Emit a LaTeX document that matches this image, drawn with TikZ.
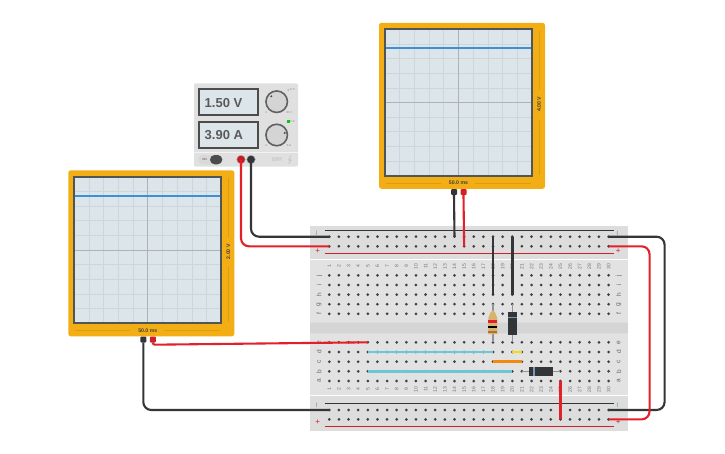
\documentclass[tikz,border=0pt]{standalone}
\usepackage{fontspec}
\setmainfont{Liberation Sans}
\usetikzlibrary{positioning,calc}

\definecolor{scopeframe}{HTML}{F2AE14}
\definecolor{scoperule}{HTML}{DB9D12}
\definecolor{scopescreen}{HTML}{DCE6EA}
\definecolor{scopegrid}{HTML}{CDD6D8}
\definecolor{scopeaxis}{HTML}{ABB3B5}
\definecolor{scopeedge}{HTML}{505655}
\definecolor{tracecol}{HTML}{3D8FD6}
\definecolor{boardcol}{HTML}{DDDDDD}
\definecolor{boardlight}{HTML}{E2E2E2}
\definecolor{groovecol}{HTML}{D5D5D5}
\definecolor{wirered}{HTML}{E3202A}
\definecolor{wireblack}{HTML}{333638}
\definecolor{railred}{HTML}{CF2027}
\definecolor{wirecyan}{HTML}{6CC6D6}
\definecolor{wireorange}{HTML}{F28A12}
\definecolor{wireyellow}{HTML}{F5D90F}
\definecolor{leadcol}{HTML}{8F9496}
\definecolor{psubody}{HTML}{E0E0E0}
\definecolor{resbody}{HTML}{D8B36E}

\tikzset{
  hole/.style={circle,fill=black!75,inner sep=0pt,minimum size=3pt},
  redwire/.style={draw=wirered,line width=2.1pt,rounded corners=8pt},
  blackwire/.style={draw=wireblack,line width=2.1pt,rounded corners=8pt},
  jumper/.style={line width=2.7pt},
  leadwire/.style={draw=leadcol,line width=1.4pt},
  collabel/.style={font=\fontsize{5}{5}\selectfont,text=black!55,rotate=90,inner sep=0pt},
  rowlabel/.style={font=\fontsize{6.5}{6.5}\selectfont,text=black!60,rotate=90,inner sep=0pt},
  railmark/.style={font=\fontsize{8}{8}\selectfont,inner sep=0pt},
  scopetext/.style={font=\bfseries\fontsize{5.2}{5}\selectfont,text=black!75,inner sep=0pt},
  readout/.style={font=\fontsize{13}{13}\selectfont\bfseries,text=black!65,inner sep=0pt},
  knobtext/.style={font=\fontsize{2.8}{3}\selectfont,text=black!50,inner sep=0pt},
  plug/.style={inner sep=0pt,minimum width=6pt,minimum height=6pt,rounded corners=1pt},
  knob/.style={circle,draw=black!62,line width=1.6pt,fill=black!17,minimum size=21.5pt,inner sep=0pt},
  display/.style={draw=black!70,line width=2pt,fill=scopescreen,minimum width=59pt,inner sep=0pt},
}

% one oscilloscope: #1 name, #2 left, #3 top, #4 trace y, #5 y label
\newcommand{\scopebox}[5]{
  \begin{scope}[shift={(#2,#3)}]
    \fill[scopeframe,rounded corners=2.5pt] (0,0) rectangle (166,166);
    \fill[scopescreen] (6,6.5) rectangle (153,153);
    \foreach \k in {1,...,9}{
      \draw[scopegrid,line width=0.8pt] ({6+14.7*\k},6.5) -- ({6+14.7*\k},153);
      \draw[scopegrid,line width=0.8pt] (6,{6.5+14.65*\k}) -- (153,{6.5+14.65*\k});
    }
    \draw[scopeaxis,line width=0.9pt] (79.5,6.5) -- (79.5,153) (6,79.8) -- (153,79.8);
    \draw[scopeedge,line width=2pt] (6,6.5) rectangle (153,153);
    \draw[tracecol,line width=2pt] (7,#4) -- (152,#4);
    \draw[scoperule,line width=0.5pt] (7,160) -- (62,160) (96,160) -- (152,160);
    \draw[scoperule,line width=0.5pt] (160,8) -- (160,67) (160,97) -- (160,152);
    \node[scopetext] (#1time) at (79.5,160) {50.0 ms};
    \node[scopetext,rotate=90] (#1volt) at (160,81.5) {#5};
    \node[plug,fill=wireblack,anchor=north] (#1neg) at (75,166) {};
    \node[plug,fill=railred,anchor=north] (#1pos) at (84.5,166) {};
  \end{scope}
}

\begin{document}
\begin{tikzpicture}[x=1pt,y=-1pt]
\useasboundingbox (0,0) rectangle (725,453);
\fill[white] (0,0) rectangle (725,453);

% breadboard
\fill[boardcol] (310,226) rectangle (628,431);
\fill[boardlight] (310,260) rectangle (628,322);
\fill[boardlight] (310,334) rectangle (628,395);
\fill[groovecol] (310,323) rectangle (628,333);
\draw[white,line width=0.5pt] (310,259.5) -- (628,259.5) (310,395) -- (628,395);
\draw[wireblack,line width=0.9pt] (324.7,230.3) -- (614,230.3) (324.7,403.3) -- (614,403.3);
\draw[railred,line width=0.9pt] (324.7,253.3) -- (614,253.3) (324.7,426.3) -- (614,426.3);
\foreach \sd/\xx in {l/317.6,r/618.3}{
  \node[railmark,text=black!50,rotate=90] (minus\sd a) at (\xx,233) {--};
  \node[railmark,text=black!50,rotate=90] (minus\sd b) at (\xx,405.5) {--};
  \node[railmark,text=railred] (plus\sd a) at (\xx,250.7) {+};
  \node[railmark,text=railred] (plus\sd b) at (\xx,422.6) {+};
}

% holes
\foreach \r/\yy in {tn/236.7,tp/246.3,j/275.3,i/285,h/294.6,g/304.2,f/313.8,e/342.3,d/352,c/361.7,b/371.3,a/381,bn/410,bp/419.4}{
  \foreach \c in {1,...,30}{
    \node[hole] (\r-\c) at ({329.3+9.63*(\c-1)},\yy) {};
  }
}
\foreach \c in {1,...,30}{
  \node[collabel] (top\c) at ({329.3+9.63*(\c-1)},266.3) {\c};
  \node[collabel] (bot\c) at ({329.3+9.63*(\c-1)},389.3) {\c};
}
\foreach \r in {j,i,h,g,f,e,d,c,b,a}{
  \path (\r-1) ++(-10.2,0) node[rowlabel] (left\r) {\r};
  \path (\r-30) ++(10.2,0) node[rowlabel] (right\r) {\r};
}

% oscilloscopes
\scopebox{scl}{68.3}{170.3}{25.7}{2.00 V}
\scopebox{sct}{379}{22.8}{25.5}{4.00 V}

% power supply
\fill[psubody,rounded corners=2pt] (194,83.3) rectangle (298,166.7);
\draw[black!5,line width=0.5pt] (194,152.7) -- (298,152.7);
\node[display,minimum height=26pt] (dispv) at (228.7,102.2) {};
\node[display,minimum height=26.5pt] (dispa) at (228.7,134.8) {};
\node[readout,anchor=west] (voltval) at (204.5,102.6) {1.50 V};
\node[readout,anchor=west] (ampval) at (204.5,135.2) {3.90 A};
\node[knob] (knobv) at (276.7,101.7) {};
\node[knob] (knoba) at (276.7,135) {};
\fill[black!70] (271.3,96.3) circle (1.1pt) (284.7,133) circle (1.1pt);
\node[knobtext] (knobvmin) at (266.5,112.5) {0};
\node[knobtext] (knobvmax) at (289,112.5) {32 V};
\node[knobtext] (knobamin) at (266.5,145.8) {0};
\node[knobtext] (knobamax) at (289,145.8) {5 A};
\node[knobtext] (ledvtext) at (292.5,90) {C.V};
\node[knobtext] (ledatext) at (292.5,121.3) {C.C};
\fill[black!25] (288.3,90) circle (1.3pt);
\fill[green!80!black] (287.2,119.8) rectangle (290,122.6);
\fill[black!15,rounded corners=4.6pt] (198.3,155) rectangle (222.3,164.3);
\fill[black!70,rounded corners=4.6pt] (210,155) rectangle (222.3,164.3);
\node[font=\fontsize{3}{3}\selectfont,text=black!70,inner sep=0pt] (swtext) at (204.5,159.8) {ON};
\node[font=\fontsize{2.6}{3}\selectfont,text=black!30,align=center,inner sep=0pt] (psuname) at (277,159.5) {POWER\\[-0.3pt]SUPPLY};
\draw[black!25,line width=0.6pt] (291,155.5) -- (288.7,160) -- (291,160) -- (288.7,164);
\node[circle,fill=wirered!85!black,draw=black!30,line width=0.4pt,minimum size=8.5pt,inner sep=0pt] (psupos) at (241,159.5) {};
\node[circle,fill=wireblack,draw=black!30,line width=0.4pt,minimum size=8.5pt,inner sep=0pt] (psuneg) at (251,159.5) {};

% wires from the supply and the scopes
\draw[redwire] (psupos.center) |- (tp-1.center);
\draw[blackwire] (psuneg.center) |- (tn-1.center);
\draw[blackwire] (sctneg.south) -- (tn-14.center);
\draw[redwire] (sctpos.south) -- (tp-15.center);
\draw[blackwire] (sclneg.south) |- (bn-1.center);
\draw[redwire,rounded corners=2pt] (sclpos.south) -- ++(0,2) -- (e-5.center);
\draw[blackwire] (tn-30.center) -- ++(56,0) |- (bn-30.center);
\draw[redwire] (tp-30.center) -- ++(41,0) |- (bp-30.center);

% jumpers on the board
\draw[jumper,wireblack] (tn-18.center) -- (h-18.center);
\draw[jumper,wireblack] (tn-20.center) -- (h-20.center);
\draw[jumper,wirecyan] (d-5.center) -- (d-18.center);
\draw[jumper,wirecyan] (b-5.center) -- (b-20.center);
\draw[jumper,wireorange] (c-18.center) -- (c-21.center);
\draw[jumper,wireyellow] (d-20.center) -- (d-21.center);
\draw[jumper,wirered] (a-25.center) -- (bp-25.center);

% resistor
\draw[leadwire] (g-18.center) -- (e-18.center);
\fill[resbody] (490.5,312.5) -- (492.8,310) -- (495,312.5) -- (497.3,318) -- (497.3,334) -- (488.3,334) -- (488.3,318) -- cycle;
\fill[wirered] (488.3,320.4) rectangle (497.3,323);
\fill[black] (488.3,325.5) rectangle (497.3,328);
\fill[black!10!brown] (488.3,330.8) rectangle (497.3,333.2);

% diodes
\draw[leadwire] (g-20.center) -- (e-20.center);
\fill[wireblack] (507.7,311.7) rectangle (516.7,335);
\fill[black!40!tracecol!60!white] (507.7,316.7) rectangle (516.7,318);
\draw[leadwire] (b-21.center) -- (b-25.center);
\fill[wireblack] (529.3,367.3) rectangle (553.3,376);
\fill[black!40!tracecol!60!white] (533.2,367.3) rectangle (535,376);
\end{tikzpicture}
\end{document}
